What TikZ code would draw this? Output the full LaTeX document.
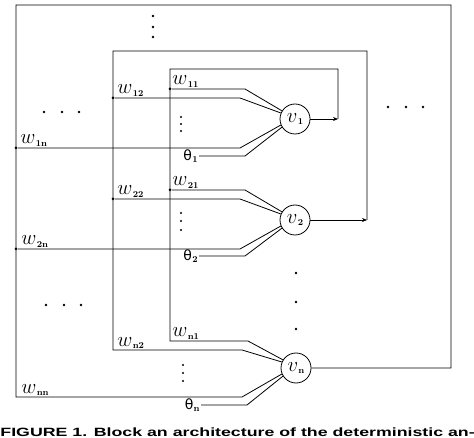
\documentclass[tikz,border=0pt]{standalone}
\usepackage{fontspec}
\newfontfamily\thfont{DejaVu Sans}
\newfontfamily\capfont{Liberation Sans}
\usetikzlibrary{arrows.meta}
\newcommand\subbf[1]{\raisebox{-2.5pt}{\fontsize{9}{10}\selectfont\bfseries #1}}
\newcommand\wsym[1]{{\fontsize{20}{22}\selectfont$w$}\kern0.3pt\subbf{#1}}
\newcommand\vsym[1]{{\fontsize{21}{23}\selectfont$v$}\kern0.3pt\subbf{#1}}
\newcommand\thsym[1]{{\thfont\fontsize{14}{16}\selectfont θ}\kern0.3pt\subbf{#1}}
\begin{document}
\begin{tikzpicture}[x=1pt,y=-1pt, line width=0.8pt,
  neuron/.style={circle,draw,line width=0.8pt,minimum size=30pt,inner sep=0pt},
  wlab/.style={anchor=base west,inner sep=0pt},
  thlab/.style={anchor=east,inner sep=1pt},
  junc/.style={circle,fill,inner sep=0pt,minimum size=3pt},
  edot/.style={circle,fill,inner sep=0pt,minimum size=2.6pt},
  outarrow/.style={-{Stealth[length=5pt,width=4pt]}}
]
\useasboundingbox (0,0) rectangle (474,438);

% neurons
\node[neuron] (v1) at (295,119) {\vsym{1}};
\node[neuron] (v2) at (295,220) {\vsym{2}};
\node[neuron] (vn) at (296,368) {\vsym{n}};

% junctions
\node[junc] (j11) at (170,89) {};
\node[junc] (j21) at (170,190) {};
\node[junc] (j12) at (113,98) {};
\node[junc] (j22) at (113,199) {};
\node[junc] (j1n) at (16,148) {};
\node[junc] (j2n) at (16,249) {};

\coordinate (c1) at (338,119);
\coordinate (c2) at (367,220);
\coordinate (c3) at (451,368);

% theta labels
\node[thlab] (t1) at (199,156) {\thsym{1}};
\node[thlab] (t2) at (199,256) {\thsym{2}};
\node[thlab] (tn) at (201,405) {\thsym{n}};

% weight labels
\node[wlab] at (172,85) {\wsym{11}};
\node[wlab] at (117,94) {\wsym{12}};
\node[wlab] at (20,144) {\wsym{1n}};
\node[wlab] at (172,186) {\wsym{21}};
\node[wlab] at (117,195) {\wsym{22}};
\node[wlab] at (21,245) {\wsym{2n}};
\node[wlab] at (172,337) {\wsym{n1}};
\node[wlab] at (117,346) {\wsym{n2}};
\node[wlab] at (21,393) {\wsym{nn}};

% feedback loops
\draw[outarrow] (v1.east) -- (c1);
\draw (c1) |- (170,69) |- (248,341) -- (vn.148);
\draw[outarrow] (v2.east) -- (c2);
\draw (c2) |- (113,51) |- (242,350) -- (vn.157);
\draw (vn.east) -- (c3) |- (16,5) |- (242,397) -- (vn.203);
\draw (tn.east) -- (247,405) -- (vn.212);

% inputs of v1
\draw (j11) -- (245,89) -- (v1.148);
\draw (j12) -- (240,98) -- (v1.157);
\draw (j1n) -- (240,148) -- (v1.203);
\draw (t1.east) -- (245,156) -- (v1.212);
% inputs of v2
\draw (j21) -- (245,190) -- (v2.148);
\draw (j22) -- (240,199) -- (v2.157);
\draw (j2n) -- (240,249) -- (v2.203);
\draw (t2.east) -- (245,256) -- (v2.212);

% ellipsis dots
\foreach \p in {(153,16),(153,27),(153,37),
  (44,112),(62,112),(79,112),
  (46,305),(64,305),(81,305),
  (388,107),(406,107),(423,107),
  (296,273),(296,302),(296,329)}
  \node[edot] at \p {};
\foreach \p in {(181,117),(181,124),(181,131),
  (181,213),(181,221),(181,230),
  (183,365),(183,373),(183,381)}
  \node[edot,minimum size=2.2pt] at \p {};

% caption
\node[anchor=base west,inner sep=0pt]
  (cap) at (0,436.5) {\scalebox{1.48}[1]{\capfont\bfseries\fontsize{12}{14}\selectfont FIGURE 1. Block an architecture of the deterministic an-}};
\end{tikzpicture}
\end{document}
